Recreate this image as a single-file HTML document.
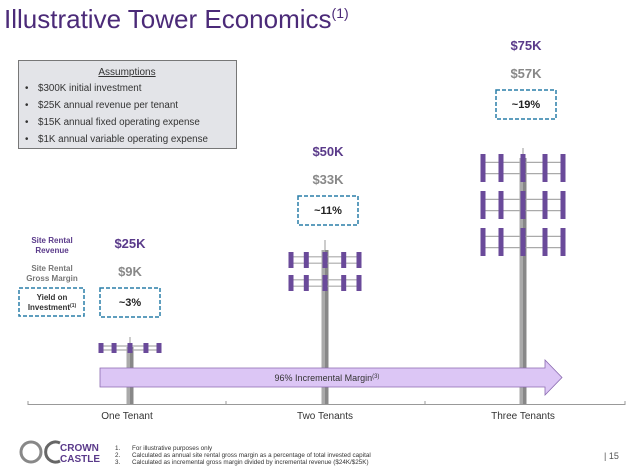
<!DOCTYPE html>
<html><head><meta charset="utf-8"><style>
body{margin:0;width:635px;height:469px;overflow:hidden;background:#fff;font-family:"Liberation Sans",sans-serif}
</style></head><body>
<svg id="s" width="635" height="469" xmlns="http://www.w3.org/2000/svg">
<text x="4" y="28" font-size="26" fill="#4b2a78">Illustrative Tower Economics<tspan font-size="14" dy="-10">(1)</tspan></text>
<g>
<rect x="18.5" y="60.5" width="218" height="88" fill="#e3e4e8" stroke="#777"/>
<text x="127" y="75" font-size="10" text-anchor="middle" fill="#333" text-decoration="underline">Assumptions</text>
<g font-size="9.8" fill="#333">
<text x="25" y="91">•</text><text x="38" y="91">$300K initial investment</text>
<text x="25" y="108">•</text><text x="38" y="108">$25K annual revenue per tenant</text>
<text x="25" y="125">•</text><text x="38" y="125">$15K annual fixed operating expense</text>
<text x="25" y="142">•</text><text x="38" y="142">$1K annual variable operating expense</text>
</g></g>
<g font-size="8" font-weight="bold" text-anchor="middle">
<text x="52" y="243" fill="#5a3a8a">Site Rental</text><text x="52" y="253" fill="#5a3a8a">Revenue</text>
<text x="52" y="271" fill="#777">Site Rental</text><text x="52" y="281" fill="#777">Gross Margin</text>
<rect x="19" y="288" width="65" height="28" fill="none" stroke="#2a7fa8" stroke-width="1.5" stroke-dasharray="4,2"/>
<text x="52" y="300" fill="#333">Yield on</text><text x="52" y="310" fill="#333">Investment<tspan font-size="5" dy="-3">(1)</tspan></text>
</g>
<g id="towers"></g>
<g>
<polygon points="100,368 545,368 545,360 562,377.5 545,395 545,387 100,387" fill="#dcc6f5" stroke="#8a6ab0" stroke-width="0.8"/>
<text x="327" y="381" font-size="9" text-anchor="middle" fill="#333">96% Incremental Margin<tspan font-size="6" dy="-3">(3)</tspan></text>
</g>
<g id="axis"></g>
<g>
<circle cx="31" cy="452" r="10" fill="none" stroke="#888" stroke-width="3"/>
<path d="M60 443 A10 10 0 1 0 60 461" fill="none" stroke="#666" stroke-width="3"/>
<text x="60" y="451" font-size="10" font-weight="bold" fill="#5a3a8a">CROWN</text>
<text x="60" y="462" font-size="10" font-weight="bold" fill="#5a3a8a">CASTLE</text>
<g font-size="6.3" fill="#333">
<text x="115" y="450">1.</text><text x="132" y="450">For illustrative purposes only</text>
<text x="115" y="457">2.</text><text x="132" y="457">Calculated as annual site rental gross margin as a percentage of total invested capital</text>
<text x="115" y="464">3.</text><text x="132" y="464">Calculated as incremental gross margin divided by incremental revenue ($24K/$25K)</text>
</g>
<text x="604" y="459" font-size="9" fill="#555">| 15</text>
</g>
</svg>
<script>
const tenants=["One Tenant","Two Tenants","Three Tenants"];
const revenue=[25,50,75];
const margin=[9,33,57];
const yieldPct=[3,11,19];
const NS="http://www.w3.org/2000/svg";
const s=document.getElementById('towers'),ax=document.getElementById('axis');
function xPos(i){return 127+i*198;}
function mk(t,a,p){const e=document.createElementNS(NS,t);for(const k in a)e.setAttribute(k,a[k]);(p||s).appendChild(e);return e;}
const top0=[337,240,148];
tenants.forEach((t,i)=>{
 const cx=xPos(i)+(i==0?3:0);
 const g=mk('g',{});
 
 
 const pt=top0[i];
 mk('rect',{x:cx-3.5,y:pt+10,width:7,height:404-pt-10,fill:'#aaa'},g);
 mk('rect',{x:cx,y:pt+10,width:3.5,height:404-pt-10,fill:'#888'},g);
 mk('line',{x1:cx,y1:pt,x2:cx,y2:pt+10,stroke:'#999'},g);
 const rows=i+1, span=[29,34,40][i], h=[10,16,28][i];
 for(let r=0;r<rows;r++){
  const y0=pt+[6,12,6][i]+r*(h+[0,7,9][i]);
  mk('line',{x1:cx-span,y1:y0+h*0.3,x2:cx+span,y2:y0+h*0.3,stroke:'#aaa','stroke-width':1.2},g);
  mk('line',{x1:cx-span,y1:y0+h*0.7,x2:cx+span,y2:y0+h*0.7,stroke:'#aaa','stroke-width':1.2},g);
  [-1,-0.55,0,0.55,1].forEach(f=>{mk('rect',{x:cx+f*span-2.5,y:y0,width:5,height:h,fill:'#6a4a9a'},g);});
 }
 const vy=[248,156,50][i];
 const t1=mk('text',{x:xPos(i)+3,y:vy,'font-size':13,'font-weight':'bold',fill:'#5a3a8a','text-anchor':'middle'});
 t1.textContent='$'+revenue[i]+'K';
 
 
 const t2=mk('text',{x:xPos(i)+3,y:vy+28,'font-size':13,'font-weight':'bold',fill:'#888','text-anchor':'middle'});
 t2.textContent='$'+margin[i]+'K';
 
 
 const b=mk('rect',{x:xPos(i)-27,y:vy+40,width:60,height:29,fill:'none',stroke:'#2a7fa8','stroke-width':1.5,'stroke-dasharray':'4,2'});
 
 
 const t3=mk('text',{x:xPos(i)+3,y:vy+58,'font-size':11,'font-weight':'bold',fill:'#222','text-anchor':'middle'});
 t3.textContent='~'+yieldPct[i]+'%';
 
 
 const l=mk('text',{x:xPos(i),y:419,'font-size':10,fill:'#333','text-anchor':'middle'},ax);
 l.textContent=t;
 
 
});
mk('line',{x1:28,y1:404.5,x2:625,y2:404.5,stroke:'#999'},ax);
[28,226,425,625].forEach(x=>mk('line',{x1:x,y1:401,x2:x,y2:405,stroke:'#999'},ax));
</script>
</body></html>
